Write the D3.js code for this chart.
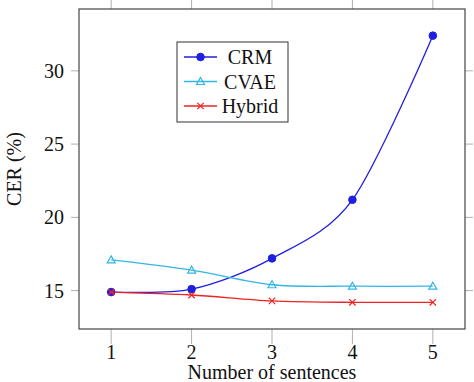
<!DOCTYPE html>
<html><head><meta charset="utf-8">
<script src="https://cdn.jsdelivr.net/npm/d3@7"></script>
<style>body{margin:0;background:#fff}svg{display:block}text{font-family:"Liberation Serif","DejaVu Serif",serif}</style>
</head><body>
<svg id="c" width="474" height="382"></svg>
<script>
const xValues = [1, 2, 3, 4, 5];
const crm = [14.9, 15.1, 17.2, 21.2, 32.4];
const cvae = [17.1, 16.4, 15.4, 15.3, 15.3];
const hybrid = [14.9, 14.7, 14.3, 14.2, 14.2];
const seriesNames = ["CRM", "CVAE", "Hybrid"];
const xTicks = [1, 2, 3, 4, 5];
const yTicks = [15, 20, 25, 30];

const svg = d3.select("#c");
const L = 79, R = 465, T = 9, B = 329;
const x = d3.scaleLinear().domain([0.6, 5.4]).range([L, R]);
const y = d3.scaleLinear().domain([12.38, 34.22]).range([B, T]);
const tickCol = "#b0b0b0";

// outer ticks (all four sides)
const gt = svg.append("g").attr("stroke", tickCol).attr("stroke-width", 1);
xTicks.forEach(v => {
  gt.append("line").attr("x1", x(v)).attr("x2", x(v)).attr("y1", T - 9).attr("y2", T);
  gt.append("line").attr("x1", x(v)).attr("x2", x(v)).attr("y1", B).attr("y2", B + 15);
});
yTicks.forEach(v => {
  gt.append("line").attr("y1", y(v)).attr("y2", y(v)).attr("x1", L - 8).attr("x2", L);
  gt.append("line").attr("y1", y(v)).attr("y2", y(v)).attr("x1", R).attr("x2", R + 8);
});

// axis box
svg.append("rect").attr("x", L).attr("y", T).attr("width", R - L).attr("height", B - T)
  .attr("fill", "none").attr("stroke", "#444").attr("stroke-width", 1.2);

// tick labels
svg.append("g").selectAll("text").data(xTicks).join("text")
  .attr("x", d => x(d)).attr("y", 359).attr("text-anchor", "middle")
  .attr("font-size", 20).attr("fill", "#111").text(d => d);
svg.append("g").selectAll("text").data(yTicks).join("text")
  .attr("x", 64).attr("y", d => y(d) + 7).attr("text-anchor", "end")
  .attr("font-size", 20).attr("fill", "#111").text(d => d);

// axis titles
svg.append("text").attr("x", 272).attr("y", 379).attr("text-anchor", "middle")
  .attr("font-size", 20).attr("fill", "#111").text("Number of sentences");
svg.append("text").attr("transform", `translate(21,${(T + B) / 2}) rotate(-90)`)
  .attr("text-anchor", "middle").attr("font-size", 20)
  .attr("fill", "#111").text("CER (%)");

const colors = ["#1f1fe0", "#33b5e8", "#ee2222"];
const data = [crm, cvae, hybrid];
const line = d3.line().x((d, i) => x(xValues[i])).y(d => y(d)).curve(d3.curveCardinal.tension(0.1));

function marker(g, k, cx, cy) {
  const c = colors[k];
  if (k === 0) {
    g.append("circle").attr("cx", cx).attr("cy", cy).attr("r", 3.8).attr("fill", c).attr("stroke", c);
  } else if (k === 1) {
    const s = 4;
    g.append("path").attr("d", `M${cx},${cy - s}L${cx + s},${cy + s * 0.75}L${cx - s},${cy + s * 0.75}Z`)
      .attr("fill", "none").attr("stroke", c).attr("stroke-width", 1.2);
  } else {
    const s = 3.2;
    g.append("path").attr("d", `M${cx - s},${cy - s}L${cx + s},${cy + s}M${cx - s},${cy + s}L${cx + s},${cy - s}`)
      .attr("stroke", c).attr("stroke-width", 1.2);
  }
}

data.forEach((vals, k) => {
  const g = svg.append("g");
  g.append("path").attr("d", line(vals)).attr("fill", "none").attr("stroke", colors[k]).attr("stroke-width", 1.3);
  vals.forEach((v, i) => marker(g, k, x(xValues[i]), y(v)));
});

// legend
const lg = svg.append("g");
lg.append("rect").attr("x", 177).attr("y", 42).attr("width", 111).attr("height", 80)
  .attr("fill", "#fff").attr("stroke", "#333").attr("stroke-width", 1);
seriesNames.forEach((n, k) => {
  const yy = 57 + k * 24.5;
  lg.append("line").attr("x1", 184).attr("x2", 217).attr("y1", yy).attr("y2", yy)
    .attr("stroke", colors[k]).attr("stroke-width", 1.3);
  marker(lg, k, 200.5, yy);
  lg.append("text").attr("x", 250).attr("y", yy + 7).attr("text-anchor", "middle").attr("font-size", 20)
    .attr("fill", "#111").text(n);
});
</script>
</body></html>
